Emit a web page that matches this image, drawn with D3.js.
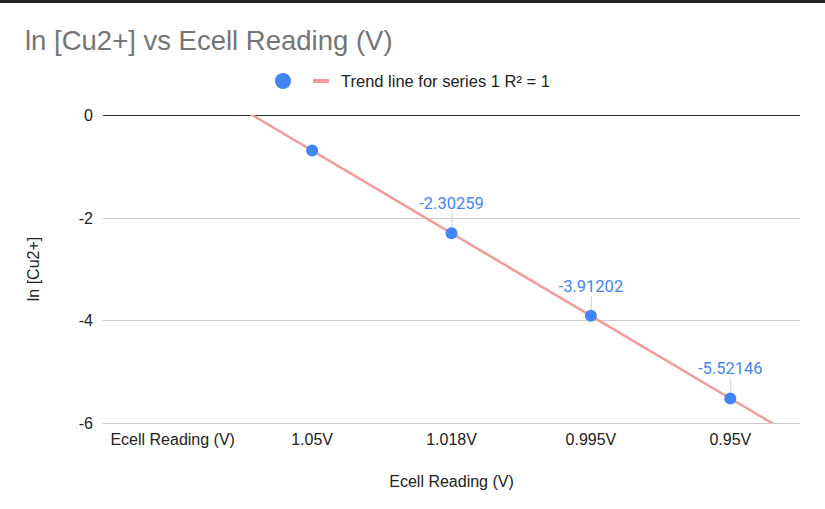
<!DOCTYPE html>
<html>
<head>
<meta charset="utf-8">
<script src="https://cdn.jsdelivr.net/npm/d3@7"></script>
<style>
  body { margin: 0; background: #fff; }
  svg { display: block; font-family: Arial, "Liberation Sans", sans-serif; }
</style>
</head>
<body>
<div class="chart"></div>
<script>
// chart data
var categories = ["Ecell Reading (V)", "1.05V", "1.018V", "0.995V", "0.95V"];
var pointCats = ["1.05V", "1.018V", "0.995V", "0.95V"];
var lnCu = [-0.693147, -2.30259, -3.91202, -5.52146];
var showLabel = [false, true, true, true];
var yTicks = [0, -2, -4, -6];

var width = 825, height = 509;
var margin = { top: 115, right: 25, bottom: 86, left: 103 };

var svg = d3.select(".chart").append("svg")
  .attr("width", width)
  .attr("height", height);

// top dark strip
svg.append("rect").attr("x", 0).attr("y", 0).attr("width", width).attr("height", 3).attr("fill", "#202124");

var x = d3.scalePoint()
  .domain(categories)
  .range([margin.left, width - margin.right])
  .padding(0.5);

var y = d3.scaleLinear()
  .domain([-6, 0])
  .range([height - margin.bottom, margin.top]);

// title
svg.append("text")
  .attr("x", 25).attr("y", 50)
  .attr("fill", "#757575")
  .style("font-size", "27.5px")
  .text("ln [Cu2+] vs Ecell Reading (V)");

// legend
svg.append("circle").attr("cx", 283).attr("cy", 81).attr("r", 8).attr("fill", "#4285f4");
svg.append("rect").attr("x", 313).attr("y", 79).attr("width", 16).attr("height", 4).attr("fill", "#f59a9a");
svg.append("text")
  .attr("x", 341).attr("y", 87)
  .attr("fill", "#222")
  .style("font-size", "16.5px")
  .text("Trend line for series 1 R\u00b2 = 1");

// gridlines
svg.append("g")
  .selectAll("line")
  .data(yTicks)
  .enter()
  .append("line")
    .attr("x1", margin.left)
    .attr("x2", width - margin.right)
    .attr("y1", d => Math.round(y(d)) + 0.5)
    .attr("y2", d => Math.round(y(d)) + 0.5)
    .attr("stroke", d => d === 0 ? "#333" : "#ccc")
    .attr("stroke-width", 1);

// y tick labels
svg.append("g")
  .selectAll("text")
  .data(yTicks)
  .enter()
  .append("text")
    .attr("x", 93)
    .attr("y", d => y(d) + 6)
    .attr("text-anchor", "end")
    .attr("fill", "#222")
    .style("font-size", "16px")
    .text(d => d);

// x tick labels
svg.append("g")
  .selectAll("text")
  .data(categories)
  .enter()
  .append("text")
    .attr("x", d => x(d))
    .attr("y", 445)
    .attr("text-anchor", "middle")
    .attr("fill", "#222")
    .style("font-size", "16px")
    .text(d => d);

// axis titles
svg.append("text")
  .attr("x", x("1.018V")).attr("y", 487)
  .attr("text-anchor", "middle")
  .attr("fill", "#222")
  .style("font-size", "16px")
  .text("Ecell Reading (V)");

svg.append("text")
  .attr("transform", "translate(39," + y(-3) + ") rotate(-90)")
  .attr("text-anchor", "middle")
  .attr("fill", "#222")
  .style("font-size", "16px")
  .text("ln [Cu2+]");

// linear trend line fitted over category index
var idx = pointCats.map(c => categories.indexOf(c));
var mx = d3.mean(idx), my = d3.mean(lnCu);
var slope = d3.sum(idx, (v, i) => (v - mx) * (lnCu[i] - my)) / d3.sum(idx, v => (v - mx) * (v - mx));
var icpt = my - slope * mx;
var step = x.step();
var xAtIndex = i => x(categories[0]) + i * step;

svg.append("clipPath").attr("id", "plot-clip")
  .append("rect")
    .attr("x", margin.left)
    .attr("y", margin.top)
    .attr("width", width - margin.left - margin.right)
    .attr("height", height - margin.top - margin.bottom);

var i0 = -0.5, i1 = categories.length - 0.5;
svg.append("line")
  .attr("clip-path", "url(#plot-clip)")
  .attr("x1", xAtIndex(i0)).attr("y1", y(icpt + slope * i0))
  .attr("x2", xAtIndex(i1)).attr("y2", y(icpt + slope * i1))
  .attr("stroke", "#f59a9a")
  .attr("stroke-width", 2.5);

// data label leaders
svg.append("g")
  .selectAll("line")
  .data(pointCats.filter((c, i) => showLabel[i]))
  .enter()
  .append("line")
    .attr("x1", d => x(d) + 0.5)
    .attr("x2", d => x(d) + 0.5)
    .attr("y1", d => y(lnCu[pointCats.indexOf(d)]) - 20)
    .attr("y2", d => y(lnCu[pointCats.indexOf(d)]) - 6)
    .attr("stroke", "#d0d0d0")
    .attr("stroke-width", 1);

// points
svg.append("g")
  .selectAll("circle")
  .data(pointCats)
  .enter()
  .append("circle")
    .attr("cx", d => x(d))
    .attr("cy", (d, i) => y(lnCu[i]))
    .attr("r", 6)
    .attr("fill", "#4285f4");

// data labels
svg.append("g")
  .selectAll("text")
  .data(pointCats.filter((c, i) => showLabel[i]))
  .enter()
  .append("text")
    .attr("x", d => x(d))
    .attr("y", d => y(lnCu[pointCats.indexOf(d)]) - 24)
    .attr("text-anchor", "middle")
    .attr("fill", "#4285f4")
    .style("font-family", "Roboto, Arial, sans-serif")
    .style("font-size", "16.5px")
    .text(d => lnCu[pointCats.indexOf(d)]);
</script>
</body>
</html>
